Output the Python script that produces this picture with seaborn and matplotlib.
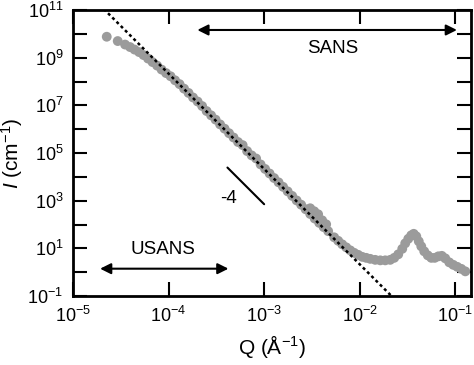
import numpy as np
import pandas as pd
import matplotlib
matplotlib.use("Agg")
import matplotlib.pyplot as plt
import seaborn as sns
from matplotlib.ticker import LogLocator, FuncFormatter, NullLocator

# ---- data (log10 values) ----
log_q = [
    -4.647, -4.532, -4.455, -4.403, -4.356, -4.309, -4.262, -4.215, -4.168, -4.120, -4.073, -4.026,
    -3.979, -3.932, -3.885, -3.838, -3.791, -3.744, -3.696, -3.649, -3.602, -3.555, -3.508, -3.461,
    -3.414, -3.367, -3.320, -3.273, -3.225, -3.178, -3.131, -3.084, -3.037, -2.990, -2.943, -2.896,
    -2.849, -2.802, -2.754, -2.707, -2.660, -2.613, -2.566,
    -2.518, -2.476, -2.435, -2.393, -2.351,
    -2.518, -2.471, -2.424, -2.377, -2.330,
    -2.267, -2.225, -2.183, -2.141, -2.099, -2.058, -2.016, -1.974, -1.932, -1.890, -1.838, -1.785,
    -1.733, -1.681, -1.639, -1.597, -1.555, -1.524, -1.492, -1.461, -1.435, -1.408, -1.382, -1.356,
    -1.325, -1.288, -1.251, -1.215, -1.178, -1.141, -1.105, -1.063, -1.021, -0.979, -0.937, -0.895,
]
log_i = [
    9.878, 9.697, 9.550, 9.445, 9.340, 9.235, 9.109, 8.962, 8.815, 8.668, 8.500, 8.353,
    8.22, 8.05, 7.89, 7.70, 7.52, 7.33, 7.16, 6.97, 6.76, 6.58, 6.40, 6.20,
    6.02, 5.83, 5.65, 5.46, 5.33, 5.08, 4.90, 4.77, 4.52, 4.33, 4.14, 3.95,
    3.77, 3.58, 3.39, 3.20, 3.01, 2.83, 2.64,
    2.681, 2.555, 2.429, 2.176, 2.008,
    2.44, 2.25, 2.07, 1.89, 1.72,
    1.462, 1.315, 1.168, 1.042, 0.916, 0.811, 0.727, 0.643, 0.601, 0.559, 0.517, 0.496,
    0.496, 0.517, 0.601, 0.748, 0.979, 1.210, 1.399, 1.546, 1.609, 1.504, 1.294, 1.084,
    0.874, 0.706, 0.601, 0.601, 0.664, 0.685, 0.580, 0.412, 0.307, 0.223, 0.139, 0.034,
]
fit_q = [2.1e-5, 2.15e-2]          # Q^-4 guide line
fit_i = [1.1e11, 1.0e-1]
slope_q = [4.13e-4, 1.0e-3]        # "-4" slope marker
slope_i = [2.45e4, 7.1e2]
sans_q = [2.0e-4, 0.104]
sans_i = 1.45e10
usans_q = [1.92e-5, 4.23e-4]
usans_i = 1.4

df = pd.DataFrame({"Q": np.power(10.0, log_q), "I": np.power(10.0, log_i)})

sns.set_theme(style="ticks")
plt.rcParams["font.family"] = ["Liberation Sans", "DejaVu Sans"]
plt.rcParams["mathtext.fontset"] = "custom"
plt.rcParams["mathtext.rm"] = "Liberation Sans"
plt.rcParams["mathtext.it"] = "Liberation Sans:italic"

fig = plt.figure(figsize=(4.74, 3.65), dpi=100)
ax = fig.add_axes([73 / 474, 69 / 365, 398 / 474, 286 / 365])

sns.scatterplot(data=df, x="Q", y="I", ax=ax, color="#9b9b9b", s=50,
                edgecolor="none", linewidth=0, zorder=2)
ax.plot(fit_q, fit_i, color="black", lw=1.8, linestyle=(0, (1.2, 1.2)), zorder=3)
ax.plot(slope_q, slope_i, color="black", lw=1.5, zorder=3)

ax.set_xscale("log")
ax.set_yscale("log")
ax.set_xlim(1e-5, 0.146)
ax.set_ylim(1e-1, 1e11)

ax.xaxis.set_major_locator(LogLocator(base=10, numticks=20))
ax.yaxis.set_major_locator(LogLocator(base=10, numticks=30))
ax.xaxis.set_minor_locator(NullLocator())
ax.yaxis.set_minor_locator(NullLocator())

def xfmt(v, pos):
    e = int(round(np.log10(v)))
    return r"$\mathregular{10^{%d}}$" % e

def yfmt(v, pos):
    e = int(round(np.log10(v)))
    if e % 2 == 0:
        return ""
    return r"$\mathregular{10^{%d}}$" % e

ax.xaxis.set_major_formatter(FuncFormatter(xfmt))
ax.yaxis.set_major_formatter(FuncFormatter(yfmt))

ax.tick_params(which="major", direction="in", length=10, width=1.5,
               top=True, right=True, labelsize=13, pad=7, color="black",
               labelcolor="black")
for sp in ax.spines.values():
    sp.set_linewidth(2)
    sp.set_color("black")
    sp.set_visible(True)

ax.set_xlabel(r"Q (Å$^{\mathregular{-1}}$)", fontsize=15, color="black", labelpad=5)
ax.set_ylabel(r"$I$ (cm$^{\mathregular{-1}}$)", fontsize=15, color="black", labelpad=2)

arrow_kw = dict(arrowstyle="<|-|>", color="black", lw=1.5, mutation_scale=16,
                shrinkA=0, shrinkB=0)
ax.annotate("", xy=(sans_q[1], sans_i), xytext=(sans_q[0], sans_i), arrowprops=arrow_kw)
ax.annotate("", xy=(usans_q[1], usans_i), xytext=(usans_q[0], usans_i), arrowprops=arrow_kw)
ax.text(5.28e-3, 2.5e9, "SANS", fontsize=13.5, ha="center", va="center", color="black")
ax.text(8.83e-5, 9.1, "USANS", fontsize=13.5, ha="center", va="center", color="black")
ax.text(4.2e-4, 1.26e3, "-4", fontsize=13.5, ha="center", va="center", color="black")

fig.savefig("out.png", dpi=100)
